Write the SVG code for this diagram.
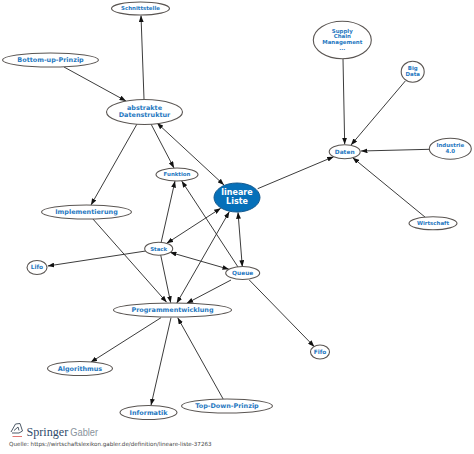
<svg xmlns="http://www.w3.org/2000/svg" width="474" height="454" viewBox="0 0 474 454">
<style>
.n{fill:#fff;stroke:#5a5552;stroke-width:1.1}
.t{font-family:"DejaVu Sans",sans-serif;font-weight:700;fill:#1f78c1;text-anchor:middle}
.s{font-size:5.45px}.w{font-size:5.85px}.m{font-size:6.45px}
#connectors line{stroke:#3c3c3c;stroke-width:1;marker-end:url(#a)}
#connectors line.b{marker-start:url(#a)}
</style>
<defs><marker id="a" viewBox="0 0 8 6" refX="8" refY="3" markerUnits="userSpaceOnUse" markerWidth="6.5" markerHeight="5" orient="auto-start-reverse"><path d="M0 0L8 3L0 6z" fill="#111"/></marker></defs>
<rect width="474" height="454" fill="#fff"/>
<g id="connectors">
<line x1="144" y1="99" x2="141" y2="15.500"/>
<line x1="64" y1="67" x2="126" y2="101"/>
<line x1="151" y1="124" x2="174" y2="168"/>
<line class="b" x1="157" y1="123" x2="224" y2="185"/>
<line x1="137" y1="124" x2="91" y2="205"/>
<line x1="161" y1="243" x2="175" y2="181"/>
<line x1="238" y1="267" x2="181.700" y2="181"/>
<line class="b" x1="166.700" y1="243.300" x2="220.700" y2="208.300"/>
<line class="b" x1="176.700" y1="303.300" x2="229.300" y2="211.700"/>
<line class="b" x1="242.300" y1="266.700" x2="238" y2="212.300"/>
<line class="b" x1="170" y1="252.300" x2="229" y2="269.300"/>
<line x1="231" y1="280" x2="186.700" y2="303.300"/>
<line x1="160.700" y1="255" x2="170.700" y2="302.700"/>
<line x1="92.300" y1="218.300" x2="166.700" y2="302.300"/>
<line x1="145.700" y1="251" x2="47.700" y2="266"/>
<line x1="249.300" y1="280" x2="314.300" y2="346.700"/>
<line x1="161" y1="317.700" x2="90.700" y2="362.300"/>
<line x1="171" y1="317.700" x2="151" y2="405.300"/>
<line x1="223.300" y1="399.300" x2="177.700" y2="317.700"/>
<line x1="257.700" y1="188.700" x2="333.700" y2="156.700"/>
<line x1="343" y1="59" x2="344.700" y2="144.300"/>
<line x1="405.300" y1="81" x2="351" y2="145"/>
<line x1="429.300" y1="149.300" x2="361" y2="151"/>
<line x1="425.300" y1="217.300" x2="352.700" y2="157.700"/>
</g>
<g id="schnittstelle"><ellipse class="n" cx="140.500" cy="8.500" rx="29" ry="6.500"/><text class="t s" x="140.500" y="10.300">Schnittstelle</text></g>
<g id="bottom-up"><ellipse class="n" cx="50.500" cy="60" rx="48" ry="7"/><text class="t m" x="50.500" y="61.800">Bottom-up-Prinzip</text></g>
<g id="abstrakte"><ellipse class="n" cx="144.500" cy="112" rx="38" ry="12.500"/><text class="t m" x="144.500" y="109.700">abstrakte</text><text class="t m" x="144.500" y="117.100">Datenstruktur</text></g>
<g id="funktion"><ellipse class="n" cx="177" cy="174.500" rx="21" ry="6.500"/><text class="t s" x="177" y="176.200">Funktion</text></g>
<g id="implementierung"><ellipse class="n" cx="86.500" cy="212" rx="45" ry="7"/><text class="t m" x="86.500" y="214">Implementierung</text></g>
<g id="lineare-liste"><ellipse cx="237" cy="197.500" rx="23" ry="14.500" fill="#0670b9" stroke="#155a8f"/><text class="t" style="font-size:8px;fill:#fff" x="237" y="195.200">lineare</text><text class="t" style="font-size:8px;fill:#fff" x="237" y="204">Liste</text></g>
<g id="stack"><ellipse class="n" cx="158.700" cy="248.700" rx="14" ry="6.500"/><text class="t s" x="158.700" y="250.500">Stack</text></g>
<g id="queue"><ellipse class="n" cx="242.700" cy="273" rx="17" ry="6.500"/><text class="t w" x="242.700" y="274.900">Queue</text></g>
<g id="lifo"><ellipse class="n" cx="37" cy="267.500" rx="10" ry="7"/><text class="t w" x="37" y="269.400">Lifo</text></g>
<g id="programmentwicklung"><ellipse class="n" cx="172.500" cy="310" rx="59" ry="7"/><text class="t m" x="172.500" y="312.200">Programmentwicklung</text></g>
<g id="algorithmus"><ellipse class="n" cx="80" cy="368.500" rx="32.500" ry="7"/><text class="t m" x="80" y="370.600">Algorithmus</text></g>
<g id="informatik"><ellipse class="n" cx="148.500" cy="412.500" rx="28.500" ry="7"/><text class="t m" x="148.500" y="414.600">Informatik</text></g>
<g id="top-down"><ellipse class="n" cx="227" cy="406" rx="45.500" ry="7"/><text class="t m" x="227" y="408.100">Top-Down-Prinzip</text></g>
<g id="fifo"><ellipse class="n" cx="320" cy="352" rx="9.500" ry="7"/><text class="t w" x="320" y="354">Fifo</text></g>
<g id="daten"><ellipse class="n" cx="344.700" cy="151.700" rx="15.500" ry="7"/><text class="t w" x="344.700" y="153.600">Daten</text></g>
<g id="supply"><ellipse class="n" cx="342.300" cy="40" rx="29" ry="18.700"/><text class="t s" x="342.300" y="32.600">Supply</text><text class="t s" x="342.300" y="38.300">Chain</text><text class="t s" x="342.300" y="44.200">Management</text><text class="t s" x="342.300" y="50.200">...</text></g>
<g id="big-data"><ellipse class="n" cx="412.700" cy="71.700" rx="11.500" ry="10.500"/><text class="t s" x="412.700" y="70.200">Big</text><text class="t s" x="412.700" y="76.200">Data</text></g>
<g id="industrie"><ellipse class="n" cx="450.300" cy="148.700" rx="21" ry="10.500"/><text class="t s" x="450.300" y="147">Industrie</text><text class="t s" x="450.300" y="153">4.0</text></g>
<g id="wirtschaft"><ellipse class="n" cx="433" cy="223.300" rx="24" ry="6.500"/><text class="t s" x="433" y="225.200">Wirtschaft</text></g>
<g id="logo">
<path d="M11 432L15.500 424L20 423.500L22.500 431L19 433H12M14 430.500L18 427L19 430.500" fill="none" stroke="#4d5a68" stroke-width="1"/>
<path d="M12.500 436.500H22" stroke="#d9534f" stroke-width=".8"/>
<text x="26.500" y="436" textLength="41.800" lengthAdjust="spacingAndGlyphs" style="font-family:'Liberation Serif',serif;font-size:13.500px;fill:#2f4a6b">Springer</text>
<text x="70.300" y="436" textLength="27.800" lengthAdjust="spacingAndGlyphs" style="font-family:'Liberation Sans',sans-serif;font-size:11px;fill:#8a939c">Gabler</text>
</g>
<text x="9" y="446" style="font-family:'DejaVu Sans',sans-serif;font-size:5.600px;fill:#444">Quelle: https://wirtschaftslexikon.gabler.de/definition/lineare-liste-37263</text>
</svg>
